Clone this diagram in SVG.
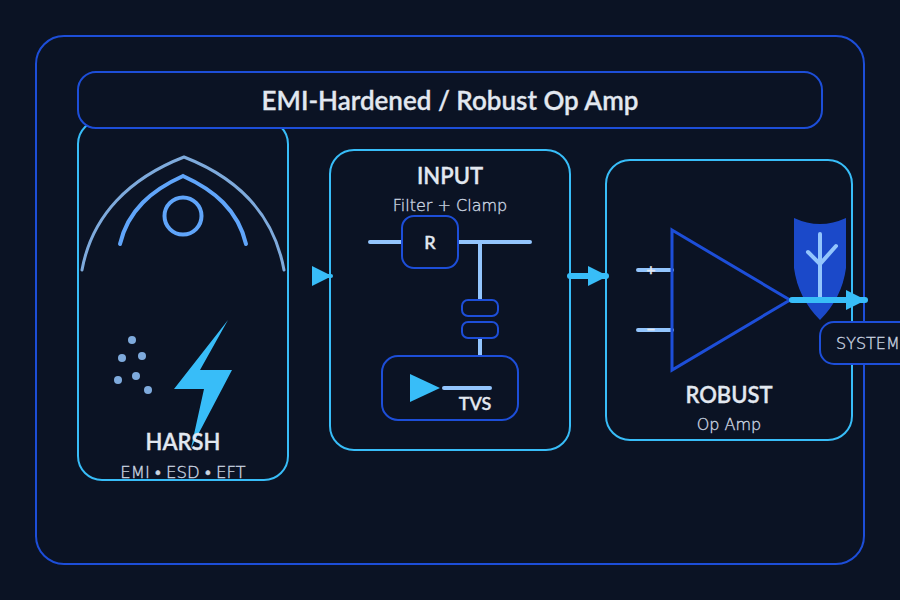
<svg xmlns="http://www.w3.org/2000/svg" width="900" height="600" viewBox="0 0 900 600">
<style>
text{font-family:"DejaVu Sans",sans-serif;font-weight:300}
.b{font-family:Lato,sans-serif;font-weight:600;fill:#e2e8f0;stroke:#e2e8f0;stroke-width:.3}
.h{font-size:22px;text-anchor:middle}
.s{font-size:16px;fill:#cbd5e1;stroke:#cbd5e1;stroke-width:.35;text-anchor:middle}
.panel{fill:#0b1324;stroke:#38bdf8;stroke-width:2}
.box{fill:#0b1324;stroke:#1d4ed8;stroke-width:2}
.wire{fill:none;stroke:#93c5fd;stroke-width:4;stroke-linecap:round}
.flow{fill:none;stroke:#38bdf8;stroke-linecap:round}
</style>
<rect width="900" height="600" fill="#0b1324"/>
<rect x="36" y="36" width="828" height="528" rx="28" fill="none" stroke="#1d4ed8" stroke-width="2"/>
<g id="harsh">
<rect class="panel" x="78" y="120" width="210" height="360" rx="24"/>
<path d="M82 270C92 215 130 178 184 157C238 178 274 215 284 270" fill="none" stroke="#93c5fd" stroke-width="3" stroke-linecap="round" opacity=".85"/>
<path d="M120 244C128 210 152 190 183 176C214 190 238 210 246 244" fill="none" stroke="#60a5fa" stroke-width="4" stroke-linecap="round"/>
<circle cx="183" cy="216" r="18.5" fill="none" stroke="#60a5fa" stroke-width="4"/>
<g fill="#93c5fd" opacity=".85"><circle cx="132" cy="340" r="4"/><circle cx="122" cy="358" r="4"/><circle cx="142" cy="356" r="4"/><circle cx="118" cy="380" r="4"/><circle cx="136" cy="376" r="4"/><circle cx="148" cy="390" r="4"/></g>
<polygon points="228,320 200,370 232,370 191,448 204,389 174,389" fill="#38bdf8"/>
<text class="h b" x="183" y="450">HARSH</text>
<text class="s" x="183" y="478" style="font-size:16.5px">EMI • ESD • EFT</text>
</g>
<g id="title">
<rect class="box" x="78" y="72" width="744" height="56" rx="18"/>
<text class="b" x="450" y="110" font-size="26" text-anchor="middle">EMI-Hardened / Robust Op Amp</text>
</g>
<g id="input">
<rect class="panel" x="330" y="150" width="240" height="300" rx="24"/>
<text class="h b" x="450" y="184">INPUT</text>
<text class="s" x="450" y="211">Filter + Clamp</text>
<path class="wire" d="M370 242H402M458 242H530"/>
<path d="M480 242V300M480 338V356" fill="none" stroke="#93c5fd" stroke-width="4"/>
<g id="resistor"><rect class="box" x="402" y="216" width="56" height="52" rx="12"/><text class="b" x="430" y="249" font-size="18" text-anchor="middle">R</text></g>
<g id="cap"><rect x="462" y="300" width="36" height="16" rx="6" fill="none" stroke="#1d4ed8" stroke-width="2"/><rect x="462" y="322" width="36" height="16" rx="6" fill="none" stroke="#1d4ed8" stroke-width="2"/></g>
<g id="tvs"><rect class="box" x="382" y="356" width="136" height="64" rx="16"/><polygon points="410,374 440,388 410,402" fill="#38bdf8"/><path class="wire" d="M444 388H490"/><text class="b" x="475" y="410" font-size="18" text-anchor="middle">TVS</text></g>
</g>
<g id="robust">
<rect class="panel" x="606" y="160" width="246" height="280" rx="24"/>
<path class="wire" d="M638 270H672M638 330H672"/>
<polygon points="672,230 790,300 672,370" fill="none" stroke="#1d4ed8" stroke-width="3"/>
<text class="b" x="651" y="275" font-size="16" text-anchor="middle">+</text>
<text class="b" x="651" y="335" font-size="16" text-anchor="middle">−</text>
<text class="h b" x="729" y="403">ROBUST</text>
<text class="s" x="729" y="430">Op Amp</text>
<g id="shield"><path d="M794 218Q820 230 846 218V268Q842 298 820 320Q798 298 794 268Z" fill="#1d4ed8" opacity=".92"/><path d="M820 234V298M808 252L820 264L836 246" fill="none" stroke="#93c5fd" stroke-width="4" stroke-linecap="round"/></g>
</g>
<g id="connectors">
<path class="flow" stroke-width="4" d="M320 276H331"/><polygon points="312,266 332,276 312,286" fill="#38bdf8"/>
<path class="flow" stroke-width="6" d="M570 276H606"/><polygon points="588,266 608,276 588,286" fill="#38bdf8"/>
<path class="flow" stroke-width="6" d="M792 300H865"/><polygon points="846,290 866,300 846,310" fill="#38bdf8"/>
</g>
<g id="system">
<rect class="box" x="820" y="322" width="120" height="42" rx="14"/>
<text class="s" x="836" y="349" style="text-anchor:start">SYSTEM</text>
</g>
</svg>
